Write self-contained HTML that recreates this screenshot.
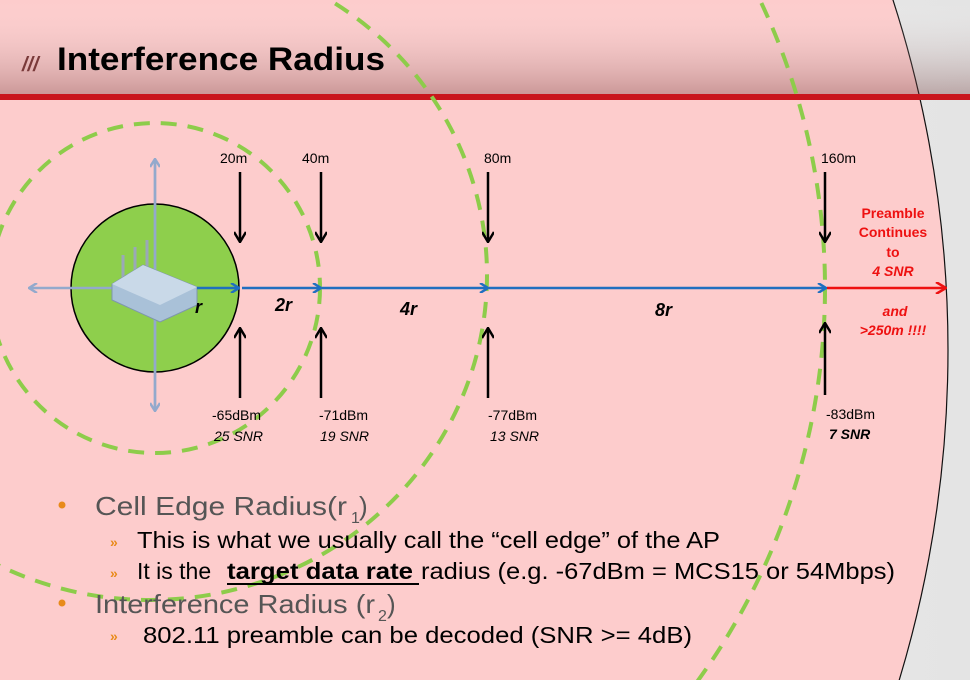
<!DOCTYPE html>
<html><head><meta charset="utf-8"><style>
html,body{margin:0;padding:0;}
body{width:970px;height:680px;overflow:hidden;font-family:"Liberation Sans",sans-serif;}
svg{display:block;}
</style></head><body>
<svg width="970" height="680" viewBox="0 0 970 680" xmlns="http://www.w3.org/2000/svg" font-family="Liberation Sans, sans-serif">
<defs>
<linearGradient id="bg" x1="0" y1="0" x2="1" y2="0">
<stop offset="0" stop-color="#f4f4f4"/><stop offset="1" stop-color="#e4e4e4"/></linearGradient>
<linearGradient id="hd" x1="0" y1="0" x2="0" y2="1">
<stop offset="0" stop-color="#ffffff" stop-opacity="0"/><stop offset="1" stop-color="#6a3030" stop-opacity="0.35"/></linearGradient>
<clipPath id="cp"><rect width="970" height="680"/></clipPath>
<marker id="ab" markerWidth="10" markerHeight="10" refX="8" refY="5" orient="auto" markerUnits="userSpaceOnUse"><path d="M1,0 L9,5 L1,10" fill="none" stroke="#1f6fc0" stroke-width="2.5"/></marker>
<marker id="al" markerWidth="10" markerHeight="10" refX="8" refY="5" orient="auto" markerUnits="userSpaceOnUse"><path d="M1,0 L9,5 L1,10" fill="none" stroke="#93a9cc" stroke-width="2.5"/></marker>
<marker id="ar" markerWidth="12" markerHeight="12" refX="10" refY="6" orient="auto" markerUnits="userSpaceOnUse"><path d="M1,0 L11,6 L1,12" fill="none" stroke="#ee1111" stroke-width="2.5"/></marker>
<marker id="ak" markerWidth="12" markerHeight="12" refX="10" refY="6" orient="auto" markerUnits="userSpaceOnUse"><path d="M1,0 L11,6 L1,12" fill="none" stroke="#000" stroke-width="2.5"/></marker>
</defs>
<g clip-path="url(#cp)">
<rect width="970" height="680" fill="url(#bg)"/>
<circle cx="-193" cy="350" r="1141" fill="#fdcccc" stroke="#111" stroke-width="1.2"/>
<rect x="0" y="0" width="970" height="96" fill="url(#hd)"/>
<rect x="0" y="94" width="970" height="6" fill="#c9161d"/>
<text x="22" y="71" font-size="20" font-weight="bold" font-style="italic" fill="#7a3a3a">///</text>
<text x="57" y="70" font-size="32" font-weight="bold" fill="#000" textLength="328" lengthAdjust="spacingAndGlyphs">Interference Radius</text>
<g fill="none" stroke="#8dcc4a" stroke-width="4" stroke-dasharray="16,11">
<circle cx="155" cy="288" r="165"/>
<ellipse cx="150" cy="275" rx="337" ry="325"/>
<circle cx="155" cy="288" r="670"/>
</g>
<circle cx="155" cy="288" r="84" fill="#8ecf4c" stroke="#000" stroke-width="1.5"/>
<g stroke="#93a9cc" stroke-width="2.5">
<line x1="155" y1="410" x2="155" y2="160" marker-end="url(#al)"/>
<line x1="155" y1="160" x2="155" y2="410" marker-end="url(#al)"/>
<line x1="155" y1="288" x2="30" y2="288" marker-end="url(#al)"/>
</g>
<g>
<line x1="123" y1="255" x2="123" y2="290" stroke="#9aa8b8" stroke-width="3"/>
<line x1="135" y1="247" x2="135" y2="285" stroke="#9aa8b8" stroke-width="3"/>
<line x1="147" y1="240" x2="147" y2="280" stroke="#9aa8b8" stroke-width="3"/>
<path d="M112,284 L143,265 L197,287 L197,305 L160,322 L112,300 Z" fill="#a9c1d8" stroke="#7e96ae" stroke-width="1"/>
<path d="M112,284 L143,265 L197,287 L160,305 Z" fill="#c9d9e8"/>
</g>
<g stroke="#1f6fc0" stroke-width="2.5">
<line x1="197" y1="288" x2="238" y2="288" marker-end="url(#ab)"/>
<line x1="242" y1="288" x2="320" y2="288" marker-end="url(#ab)"/>
<line x1="322" y1="288" x2="487" y2="288" marker-end="url(#ab)"/>
<line x1="489" y1="288" x2="825" y2="288" marker-end="url(#ab)"/>
</g>
<line x1="827" y1="288" x2="945" y2="288" stroke="#ee1111" stroke-width="2.5" marker-end="url(#ar)"/>
<g stroke="#000" stroke-width="2.5">
<line x1="240" y1="172" x2="240" y2="241" marker-end="url(#ak)"/>
<line x1="321" y1="172" x2="321" y2="241" marker-end="url(#ak)"/>
<line x1="488" y1="172" x2="488" y2="241" marker-end="url(#ak)"/>
<line x1="825" y1="172" x2="825" y2="241" marker-end="url(#ak)"/>
<line x1="240" y1="398" x2="240" y2="329" marker-end="url(#ak)"/>
<line x1="321" y1="398" x2="321" y2="329" marker-end="url(#ak)"/>
<line x1="488" y1="398" x2="488" y2="329" marker-end="url(#ak)"/>
<line x1="825" y1="395" x2="825" y2="324" marker-end="url(#ak)"/>
</g>
<g font-size="14" fill="#000">
<text x="220" y="163">20m</text><text x="302" y="163">40m</text>
<text x="484" y="163">80m</text><text x="821" y="163">160m</text>
<text x="212" y="420">-65dBm</text><text x="319" y="420">-71dBm</text>
<text x="488" y="420">-77dBm</text><text x="826" y="419">-83dBm</text>
</g>
<g font-size="14" font-style="italic" fill="#000">
<text x="214" y="441">25 SNR</text><text x="320" y="441">19 SNR</text>
<text x="490" y="441">13 SNR</text>
<text x="829" y="439" font-weight="bold">7 SNR</text>
</g>
<g font-size="18" font-weight="bold" font-style="italic" fill="#000">
<text x="195" y="313">r</text><text x="275" y="311">2r</text>
<text x="400" y="315">4r</text><text x="655" y="316">8r</text>
</g>
<g font-size="14" font-weight="bold" fill="#ee1111" text-anchor="middle">
<text x="893" y="218">Preamble</text><text x="893" y="237">Continues</text>
<text x="893" y="257">to</text>
<text x="893" y="276" font-style="italic">4 SNR</text>
<text x="895" y="316" font-style="italic">and</text>
<text x="893" y="335" font-style="italic">&gt;250m !!!!</text>
</g>
<g font-size="26" fill="#555">
<circle cx="62" cy="505" r="3.5" fill="#e88a1a"/>
<text x="95" y="515" textLength="252" lengthAdjust="spacingAndGlyphs">Cell Edge Radius(r</text>
<text x="351" y="523" font-size="16">1</text><text x="359" y="515">)</text>
<circle cx="62" cy="603" r="3.5" fill="#e88a1a"/>
<text x="95" y="613" textLength="280" lengthAdjust="spacingAndGlyphs">Interference Radius (r</text>
<text x="378" y="621" font-size="16">2</text><text x="387" y="613">)</text>
</g>
<g font-size="14" fill="#e88a1a" font-weight="bold">
<text x="110" y="547">»</text><text x="110" y="578">»</text><text x="110" y="641">»</text>
</g>
<g font-size="23" fill="#000">
<text x="137" y="548" textLength="583" lengthAdjust="spacingAndGlyphs">This is what we usually call the “cell edge” of the AP</text>
<text x="137" y="579">It is the </text>
<text x="227" y="579" font-weight="bold" textLength="186" lengthAdjust="spacingAndGlyphs">target data rate</text>
<line x1="227" y1="584" x2="419" y2="584" stroke="#000" stroke-width="2"/>
<text x="421" y="579" textLength="474" lengthAdjust="spacingAndGlyphs">radius (e.g. -67dBm = MCS15 or 54Mbps)</text>
<text x="143" y="643" textLength="549" lengthAdjust="spacingAndGlyphs">802.11 preamble can be decoded (SNR &gt;= 4dB)</text>
</g>
</g>
</svg>
</body></html>
